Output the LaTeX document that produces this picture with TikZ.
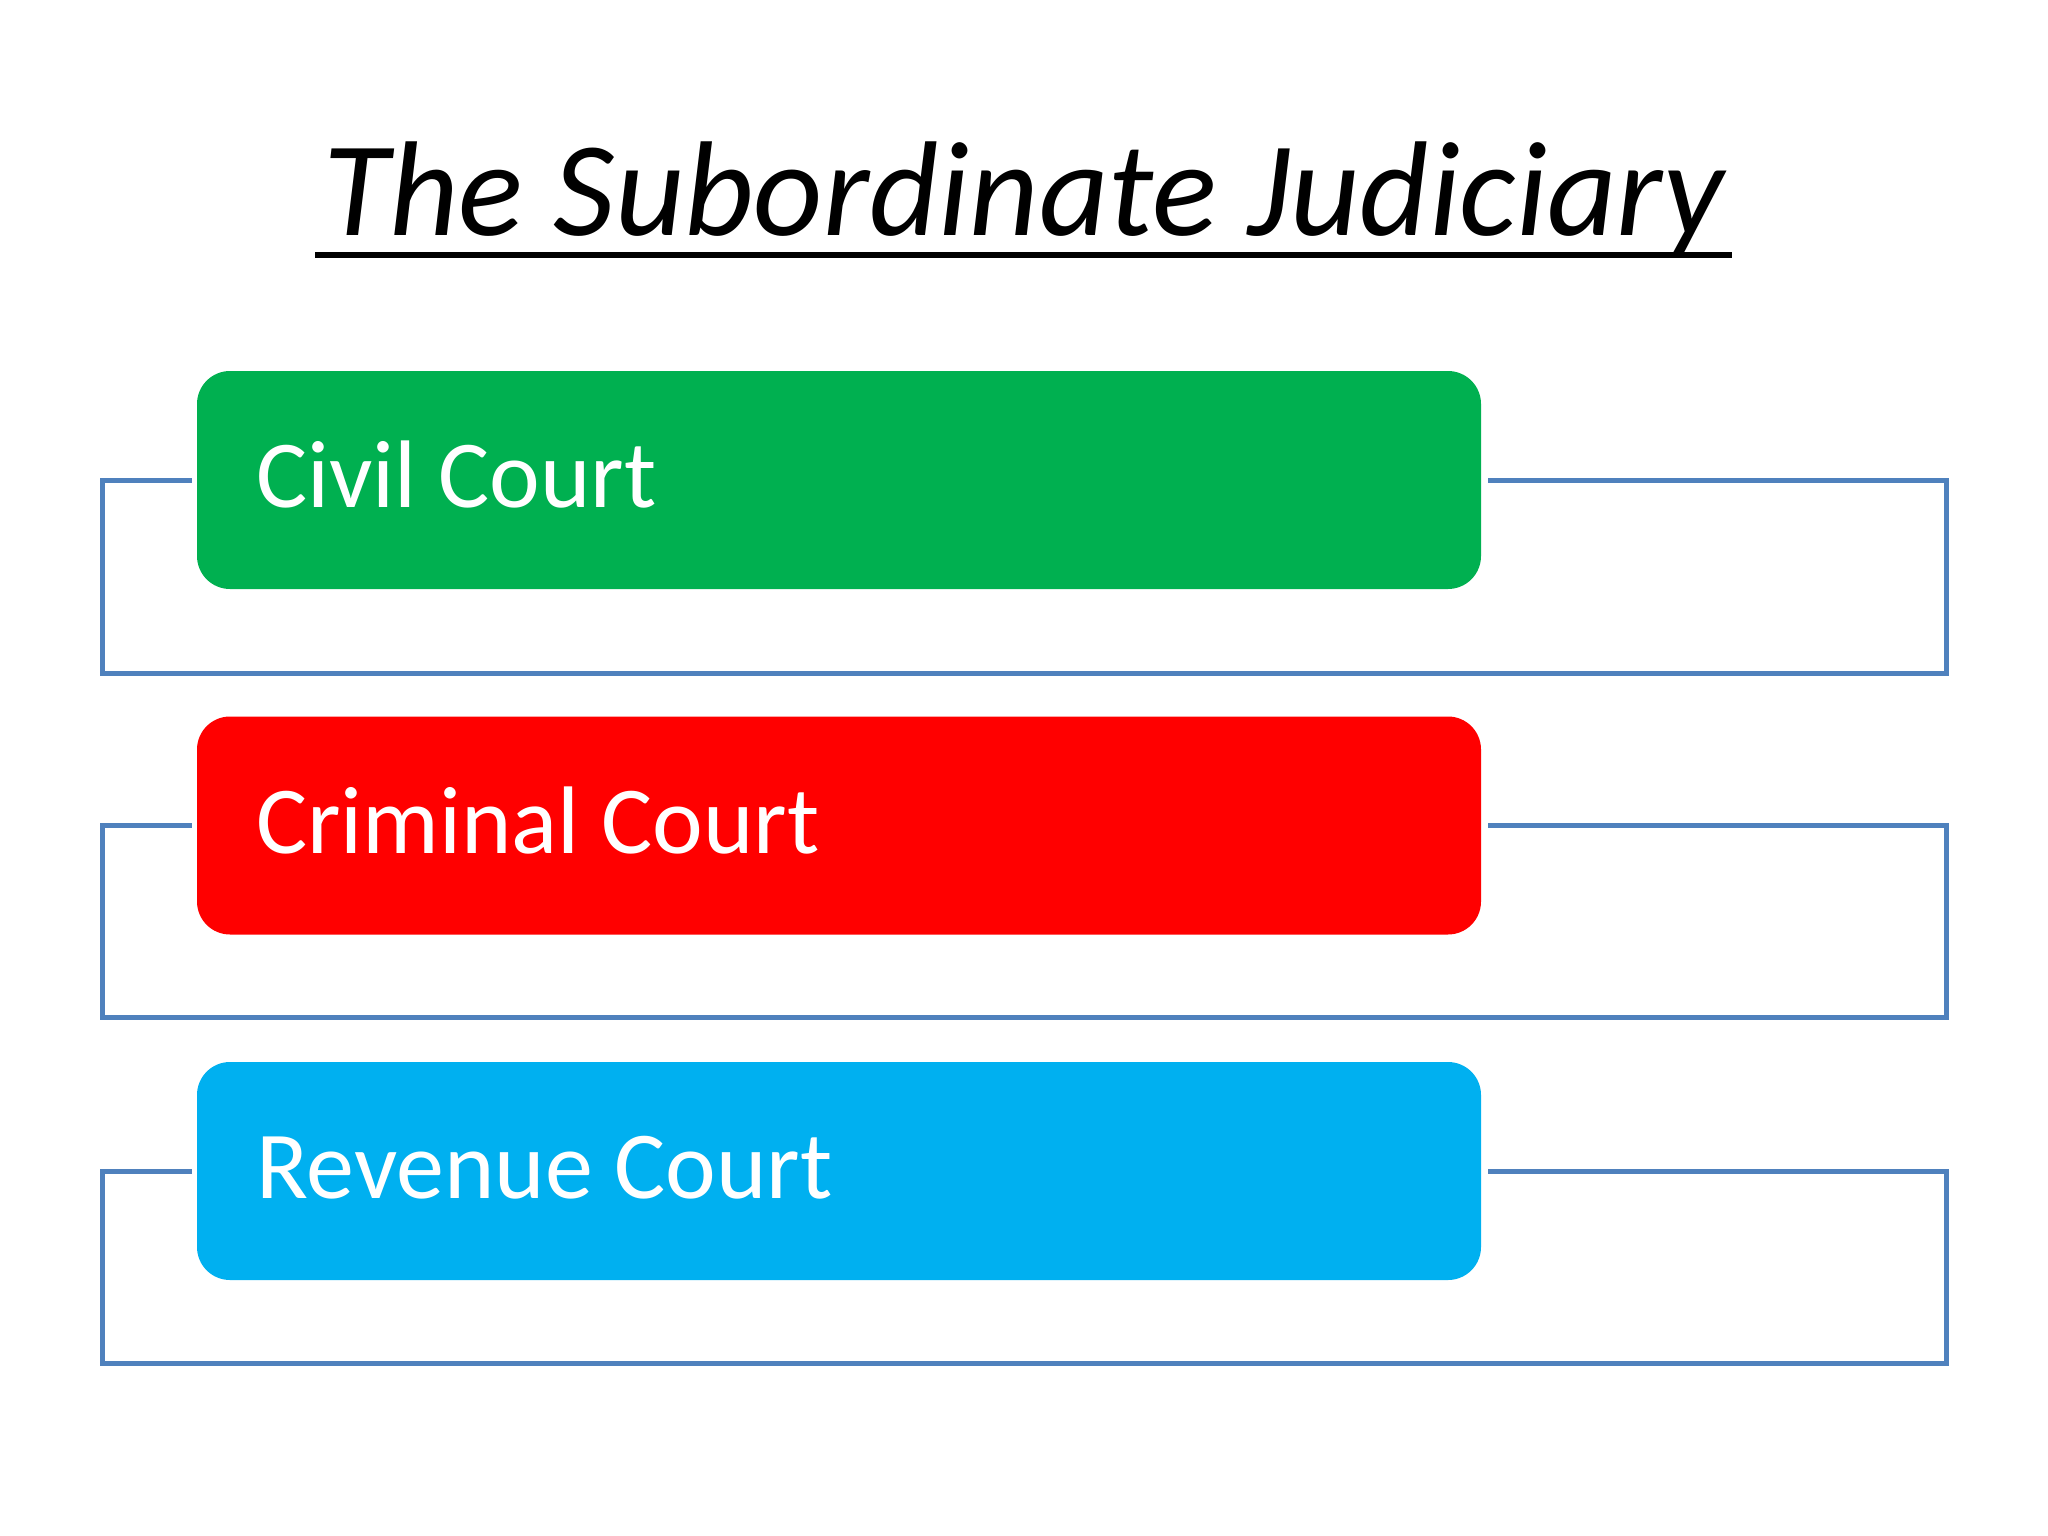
\documentclass[tikz,border=0pt]{standalone}
\usepackage{fontspec}
\setmainfont{Carlito}
\usetikzlibrary{calc}
\definecolor{civgreen}{HTML}{00B050}
\definecolor{crimred}{HTML}{FF0000}
\definecolor{revcyan}{HTML}{00B0F0}
\definecolor{brblue}{HTML}{4F81BD}
\tikzset{
  courtbox/.style={draw=none, rounded corners=33pt, minimum width=1284pt, minimum height=218pt, inner sep=0pt},
  courtlabel/.style={anchor=base west, inner sep=0pt, text=white, font=\fontsize{96}{116}\selectfont},
  bracketline/.style={draw=brblue, line width=5pt, line join=miter},
}
\begin{document}
\begin{tikzpicture}[x=1pt,y=-1pt]
\useasboundingbox[fill=white] (0,0) rectangle (2048,1536);
% title
\node[anchor=base, inner sep=0pt, font=\itshape\fontsize{135}{160}\selectfont] (title) at (1024,235) {The Subordinate Judiciary};
\coordinate (ulL) at (315,255);
\coordinate (ulR) at (1732,255);
\draw[line width=6.5pt] (ulL) -- (ulR);
% boxes
\node[courtbox, fill=civgreen] (civ) at (839,480) {};
\node[courtbox, fill=crimred] (crim) at (839,825.5) {};
\node[courtbox, fill=revcyan] (rev) at (839,1171) {};
\node[courtlabel] (civt) at (256,507) {Civil Court};
\node[courtlabel] (crimt) at (256,853) {Criminal Court};
\node[courtlabel] (revt) at (256,1198) {Revenue Court};
% brackets
\coordinate (b1l) at (102,673); \coordinate (b1r) at (1946,673);
\coordinate (b2l) at (102,1017); \coordinate (b2r) at (1946,1017);
\coordinate (b3l) at (102,1363); \coordinate (b3r) at (1946,1363);
\draw[bracketline] ([xshift=-5pt]civ.west) -| (b1l) -- (b1r) |- ([xshift=7pt]civ.east);
\draw[bracketline] ([xshift=-5pt]crim.west) -| (b2l) -- (b2r) |- ([xshift=7pt]crim.east);
\draw[bracketline] ([xshift=-5pt]rev.west) -| (b3l) -- (b3r) |- ([xshift=7pt]rev.east);
\end{tikzpicture}
\end{document}
